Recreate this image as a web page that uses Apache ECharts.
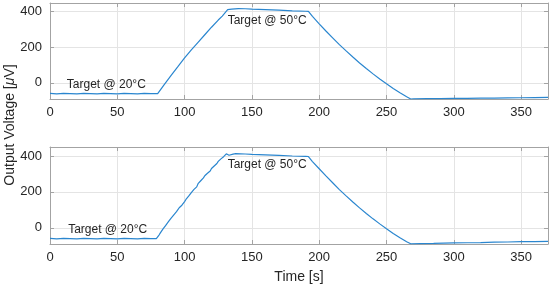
<!DOCTYPE html>
<html>
<head>
<meta charset="utf-8">
<script src="https://cdn.jsdelivr.net/npm/echarts@6/dist/echarts.min.js"></script>
<style>html,body{margin:0;padding:0;background:#fff}#c{width:550px;height:287px}</style>
</head>
<body>
<div id="c"></div>
<script>
// ---- data ----
const xTickLabels = ['0','50','100','150','200','250','300','350'];
const yTickLabels = ['0','200','400'];

const topTime = [0,5,10,15,20,25,30,35,40,45,50,55,60,65,70,75,80,
  85,90,95,100,105,110,115,120,125,128,132,
  135,140,145,150,160,170,180,190,192,
  195,200,205,210,215,220,225,230,235,240,245,250,255,260,265,268,
  270,280,290,300,310,320,330,340,350,360,370];
const topVolt = [-59,-61,-59,-60,-61,-59,-60,-61,-59,-60,-61,-59,-60,-61,-59,-60,-60,
  -8,42,90,139,184,226,268,310,350,372,408,
  411,414,413,411,408,405,401,399,398,
  370,329,289,251,213,178,144,111,80,50,22,-5,-31,-55,-77,-90,
  -89,-88,-88,-87,-86,-85,-85,-84,-83,-82,-81];

const botTime = [0,5,10,15,20,25,30,35,40,45,50,55,60,65,70,75,79,
  80,81,82,83,84,85,86,87,88,89,90,91,92,93,94,95,96,97,98,99,100,
  101,102,103,104,105,106,107,108,109,110,111,112,113,114,115,116,117,118,119,120,
  121,122,123,124,125,126,127,128,129,130,131,
  133,136,138,145,150,160,170,180,190,192,
  195,200,205,210,215,220,225,230,235,240,245,250,255,260,265,268,
  275,285,300,310,320,330,340,350,360,370];
const botVolt = [-59,-61,-59,-60,-61,-59,-60,-61,-59,-60,-61,-59,-60,-61,-59,-60,-60,
  -50,-40,-28,-18,-6,2,14,22,34,42,54,60,72,80,90,98,112,108,126,134,146,
  158,150,176,182,196,190,214,222,228,246,238,262,266,278,290,282,304,310,316,330,
  322,344,350,358,370,364,384,390,396,404,412,
  404,410,413,411,409,406,403,400,398,397,
  369,329,289,251,213,178,144,111,80,50,22,-5,-31,-55,-77,-89,
  -88,-87,-84,-83,-82,-80,-79,-77,-77,-75];

const noteTexts = ['Target @ 20°C', 'Target @ 50°C'];
const topNoteCoords = [[12.5, -12], [132, 348]];
const botNoteCoords = [[13.5, -8], [132, 352]];

const xLabel = 'Time [s]';
const yLabelParts = ['Output Voltage [', 'μ', 'V]'];

// ---- chart ----
const axisGray = '#a3a3a3';
const gridGray = '#e4e4e4';
const textCol = '#262626';
const lineCol = '#2a86cf';
const FONT = 'Liberation Sans, Arial, sans-serif';

function pairs(t, v) { return t.map((x, i) => [x, v[i]]); }

function xAx(gi, pos, main) {
  return {
    type: 'value', gridIndex: gi, position: pos, min: 0, max: 370, interval: 50,
    axisLine: { show: true, onZero: false, lineStyle: { color: axisGray, width: 1 } },
    axisTick: { show: true, inside: true, length: 4, lineStyle: { color: axisGray } },
    splitLine: { show: main, lineStyle: { color: gridGray, width: 1 } },
    axisLabel: {
      show: main, margin: 7, fontSize: 13, color: textCol, fontFamily: FONT,
      showMinLabel: true, showMaxLabel: false,
      formatter: v => xTickLabels.includes(String(v)) ? String(v) : ''
    }
  };
}
function yAx(gi, pos, main, mn, mx) {
  return {
    type: 'value', gridIndex: gi, position: pos, min: mn, max: mx, splitNumber: 3,
    axisLine: { show: true, onZero: false, lineStyle: { color: axisGray, width: 1 } },
    axisTick: { show: true, inside: true, length: 4, lineStyle: { color: axisGray } },
    splitLine: { show: main, lineStyle: { color: gridGray, width: 1 } },
    axisLabel: {
      show: main, margin: 8, fontSize: 13, color: textCol, fontFamily: FONT,
      showMinLabel: false, showMaxLabel: false,
      formatter: v => yTickLabels.includes(String(v)) ? String(v) : ''
    }
  };
}
function notes(coords) {
  return {
    symbol: 'circle', symbolSize: 0, silent: true,
    label: { show: true, position: 'right', distance: 0, fontSize: 12, color: textCol,
             fontFamily: FONT, formatter: p => p.name },
    data: coords.map((c, i) => ({ name: noteTexts[i], coord: c }))
  };
}

const chart = echarts.init(document.getElementById('c'), null, { renderer: 'canvas' });
const xa = [xAx(0, 'bottom', true), xAx(0, 'top', false), xAx(1, 'bottom', true), xAx(1, 'top', false)];
xa[2].name = xLabel;
xa[2].nameLocation = 'middle';
xa[2].nameGap = 26;
xa[2].nameTextStyle = { fontSize: 14, color: textCol, fontFamily: FONT };

const lineSeries = (xi, yi, t, v, c) => ({
  type: 'line', xAxisIndex: xi, yAxisIndex: yi, data: pairs(t, v),
  smooth: false, sampling: null, showSymbol: false, symbol: 'none',
  lineStyle: { color: lineCol, width: 1.2 }, markPoint: notes(c)
});

chart.setOption({
  animation: false,
  backgroundColor: '#fff',
  grid: [
    { left: 50, right: 2, top: 3, height: 96 },
    { left: 50, right: 2, top: 147, height: 97 }
  ],
  xAxis: xa,
  yAxis: [yAx(0, 'left', true, -90, 445), yAx(0, 'right', false, -90, 445),
          yAx(1, 'left', true, -90, 450), yAx(1, 'right', false, -90, 450)],
  graphic: [{
    type: 'text', x: 10, y: 125, rotation: Math.PI / 2,
    style: {
      text: yLabelParts[0] + '{i|' + yLabelParts[1] + '}' + yLabelParts[2],
      fontSize: 14, fill: textCol, fontFamily: FONT,
      align: 'center', verticalAlign: 'middle',
      rich: { i: { fontStyle: 'italic', fontSize: 14, fill: textCol, fontFamily: FONT } }
    }
  }],
  series: [
    lineSeries(0, 0, topTime, topVolt, topNoteCoords),
    lineSeries(2, 2, botTime, botVolt, botNoteCoords)
  ]
});
</script>
</body>
</html>
